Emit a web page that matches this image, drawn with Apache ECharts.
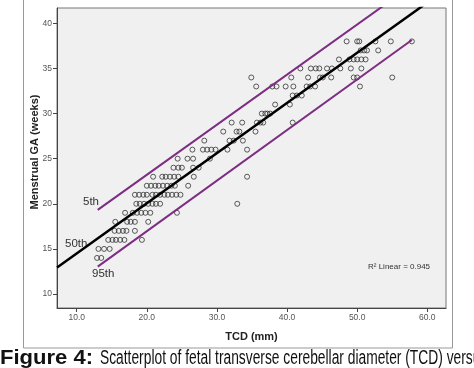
<!DOCTYPE html>
<html>
<head>
<meta charset="utf-8">
<script src="https://cdn.jsdelivr.net/npm/echarts@6/dist/echarts.min.js"></script>
<style>html,body{margin:0;padding:0;background:#fff}#main{width:474px;height:368px}</style>
</head>
<body>
<div id="main"></div>
<script>
// GA (weeks) rows and the TCD readings (mm) in each row
var weeks = [14,15,16,17,18,19,20,21,22,23,24,25,26,27,28,29,30,31,32,33,34,35,36,37,38];
var tcdByWeek = [
  [12.9,13.5],
  [13.1,13.9,14.7],
  [14.5,15.1,15.6,16.2,16.8,19.3],
  [15.4,16.0,16.6,17.1,18.3],
  [15.5,17.2,17.7,18.3,20.2],
  [16.9,18.0,18.6,19.2,19.8,20.5,24.3],
  [18.5,19.0,19.6,20.2,20.8,21.3,21.9,32.9],
  [18.3,18.9,19.5,20.0,20.8,21.3,21.9,22.5,23.0,23.6,24.2,24.8],
  [20.0,20.6,21.2,21.7,22.3,22.9,23.5,24.0,25.9],
  [20.9,22.2,22.7,23.3,23.9,24.5,26.7,34.3],
  [23.8,24.5,25.0,26.6,27.4],
  [24.4,25.8,26.6,29.0],
  [26.5,28.0,28.6,29.2,29.8,31.5,34.3],
  [28.2,31.8,32.4,33.7],
  [30.9,32.8,33.2,35.5],
  [32.1,33.6,35.7,36.2,36.6,40.8],
  [36.4,36.9,37.2,37.6],
  [38.3,40.4],
  [40.8,41.4,42.1],
  [35.6,37.9,38.5,39.8,40.9,42.8,43.3,44.0,50.4],
  [34.9,40.6,43.0,44.7,45.1,46.3,49.5,50.0,55.0],
  [41.9,43.4,44.1,44.6,45.7,46.4,47.6,49.1,50.6],
  [47.4,48.9,49.5,50.0,50.6,51.2],
  [50.5,51.0,51.4,53.0],
  [48.5,50.0,50.3,52.6,54.8,57.8]
];
var xTicks = [10,20,30,40,50,60];
var yTicks = [10,15,20,25,30,35,40];
// fitted line and percentile lines, end points (TCD, GA)
var line50 = [[7.2,12.93],[60,42.3]];
var line5 = [[13.0,19.33],[56,43.2]];
var line95 = [[13.0,13.03],[57.8,38.15]];

var points = [];
for (var i = 0; i < weeks.length; i++) {
  for (var j = 0; j < tcdByWeek[i].length; j++) {
    points.push([tcdByWeek[i][j], weeks[i]]);
  }
}

var chart = echarts.init(document.getElementById('main'));
var txt = '#333';
var option = {
  animation: false,
  backgroundColor: '#fff',
  grid: {
    left: 57, right: 28, top: 8, bottom: 60,
    show: true, backgroundColor: '#f0f0f0', borderColor: '#777', borderWidth: 1
  },
  xAxis: {
    type: 'value', min: 7.19, max: 62.67,
    name: 'TCD (mm)', nameLocation: 'middle', nameGap: 23,
    nameTextStyle: { fontFamily: 'Liberation Sans', fontWeight: 'bold', fontSize: 11, color: '#222' },
    axisLine: { lineStyle: { color: '#444' } },
    axisTick: { customValues: xTicks, length: 4, lineStyle: { color: '#444' } },
    axisLabel: { customValues: xTicks, formatter: function (v) { return v.toFixed(1); },
      fontFamily: 'Liberation Sans', fontSize: 8.5, color: '#555', margin: 5 },
    splitLine: { show: false }
  },
  yAxis: {
    type: 'value', min: 8.45, max: 41.7,
    name: 'Menstrual GA (weeks)', nameLocation: 'middle', nameGap: 17, nameMoveOverlap: false,
    nameTextStyle: { fontFamily: 'Liberation Sans', fontWeight: 'bold', fontSize: 11, color: '#222',
      padding: [0, 0, 0, 12] },
    axisLine: { lineStyle: { color: '#444' } },
    axisTick: { customValues: yTicks, length: 4, lineStyle: { color: '#444' } },
    axisLabel: { customValues: yTicks, fontFamily: 'Liberation Sans', fontSize: 8.5, color: '#555', margin: 5 },
    splitLine: { show: false }
  },
  series: [
    {
      type: 'scatter', data: points, symbol: 'circle', symbolSize: 5,
      itemStyle: { color: 'rgba(0,0,0,0)', borderColor: '#333', borderWidth: 1 }
    },
    { type: 'line', data: line5, symbol: 'none', lineStyle: { color: '#7d2d82', width: 2 } },
    { type: 'line', data: line95, symbol: 'none', lineStyle: { color: '#7d2d82', width: 2 } },
    { type: 'line', data: line50, symbol: 'none', lineStyle: { color: '#000', width: 2.5 } }
  ],
  graphic: [
    { type: 'rect', shape: { x: 23.5, y: -2, width: 429, height: 350 },
      style: { fill: 'none', stroke: '#999', lineWidth: 1 }, z: -1 },
    { type: 'text', left: 83, top: 196, style: { text: '5th', font: '11.5px "Liberation Sans"', fill: txt } },
    { type: 'text', left: 65, top: 238, style: { text: '50th', font: '11.5px "Liberation Sans"', fill: txt } },
    { type: 'text', left: 92, top: 268, style: { text: '95th', font: '11.5px "Liberation Sans"', fill: txt } },
    { type: 'text', left: 368, top: 263, style: { text: 'R² Linear = 0.945', font: '8px "Liberation Sans"', fill: txt } },
    { type: 'text', x: 0, y: 348, scaleX: 1.05,
      style: { text: 'Figure 4:', font: 'bold 21px "Liberation Sans"', fill: '#111' } },
    { type: 'text', x: 100, y: 348, scaleX: 0.69,
      style: { text: 'Scatterplot of fetal transverse cerebellar diameter (TCD) versus',
        font: '20px "Liberation Sans"', fill: '#111' } }
  ]
};
chart.setOption(option);
</script>
</body>
</html>
